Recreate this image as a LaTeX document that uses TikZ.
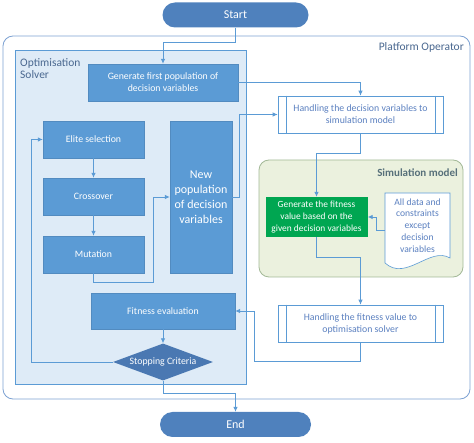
\documentclass[tikz,border=0pt]{standalone}
\usepackage{fontspec}
\setmainfont{Carlito}
\usetikzlibrary{shapes.geometric,arrows.meta,calc}
\definecolor{boxblue}{HTML}{5B9BD5}
\definecolor{pillblue}{HTML}{4F81BD}
\definecolor{diablue}{HTML}{4A78B2}
\definecolor{solverfill}{HTML}{DEEBF7}
\definecolor{outerline}{HTML}{7DA2D3}
\definecolor{simfill}{HTML}{EBF1DE}
\definecolor{simline}{HTML}{A3B997}
\definecolor{gbox}{HTML}{00A651}
\definecolor{labcol}{HTML}{4A6890}
\definecolor{simlab}{HTML}{57707A}
\definecolor{htext}{HTML}{5B80C0}
\tikzset{
  every node/.style={font=\fontsize{9.8}{12}\selectfont, align=center, inner sep=0pt},
  bluebox/.style={rectangle, fill=boxblue, draw=boxblue!90!black, line width=0.4pt, text=white},
  pill/.style={rectangle, rounded corners=12.5pt, fill=pillblue, text=white, font=\fontsize{12}{13}\selectfont, minimum width=146pt, minimum height=25pt},
  hbox/.style={rectangle, fill=white, draw=boxblue, line width=0.6pt, text=htext, minimum width=165pt, minimum height=37pt},
  conn/.style={draw=boxblue, line width=0.8pt, -{Latex[length=5pt,width=4.5pt]}},
}
\begin{document}
\begin{tikzpicture}[x=1pt,y=-1pt]
\useasboundingbox (0,0) rectangle (474,443);
% containers
\draw[outerline, line width=0.8pt, fill=white, rounded corners=10pt] (3,36) rectangle (470,399);
\draw[boxblue, line width=0.7pt, fill=solverfill] (15,50) rectangle (246,384);
\draw[simline, line width=0.8pt, fill=simfill, rounded corners=10pt] (259,160) rectangle (463,277);
\node[anchor=east, text=labcol, font=\fontsize{11.5}{13}\selectfont] (plab) at (464,47) {Platform Operator};
\node[anchor=north west, text=labcol, align=left, font=\fontsize{11.5}{12.5}\selectfont] (slab) at (20,58) {Optimisation\\Solver};
\node[anchor=east, text=simlab, font=\bfseries\fontsize{11}{13}\selectfont] (simlabel) at (458,173) {Simulation model};
% nodes
\node[pill] (start) at (235.5,15) {Start};
\node[pill, minimum width=151pt] (end) at (235.5,424.5) {End};
\node[bluebox, minimum width=150pt, minimum height=37pt] (gen) at (163,82.5) {Generate first population of\\decision variables};
\node[bluebox, minimum width=101pt, minimum height=37pt] (elite) at (93.5,139.5) {Elite selection};
\node[bluebox, minimum width=101pt, minimum height=37pt] (cross) at (93.5,196.5) {Crossover};
\node[bluebox, minimum width=101pt, minimum height=37pt] (mut) at (93.5,254.5) {Mutation};
\node[bluebox, minimum width=62pt, minimum height=152pt, font=\fontsize{12}{15}\selectfont] (newpop) at (201,197) {New\\population\\of decision\\variables};
\node[bluebox, minimum width=144pt, minimum height=36pt] (fit) at (163,311) {Fitness evaluation};
\node[diamond, aspect=2.7, fill=diablue, text=white, minimum width=100pt, minimum height=37pt] (stop) at (163,362) {Stopping Criteria};
\node[hbox] (hdv) at (360.5,114.5) {Handling the decision variables to\\simulation model};
\node[hbox] (hfv) at (360.5,323.5) {Handling the fitness value to\\optimisation solver};
\foreach \n in {hdv,hfv}{
  \draw[boxblue, line width=0.6pt] ([xshift=9pt]\n.north west) -- ([xshift=9pt]\n.south west);
  \draw[boxblue, line width=0.6pt] ([xshift=-8pt]\n.north east) -- ([xshift=-8pt]\n.south east);
}
\node[rectangle, fill=gbox, text=white, minimum width=102pt, minimum height=40pt, font=\fontsize{9.4}{12}\selectfont] (gfit) at (316.5,217) {Generate the fitness\\value based on the\\given decision variables};
% document shape
\draw[boxblue, line width=0.6pt, fill=white] (385,193) -- (450,193) -- (450,258) .. controls (430,246) and (406,282) .. (385,263) -- cycle;
\node[text=htext, font=\fontsize{9.6}{11.8}\selectfont] (doc) at (417.5,225.5) {All data and\\constraints\\except\\decision\\variables};
\coordinate (docw) at (385,230);
% connectors
\draw[conn] (start.south) -- ++(0,15) -| (gen.north);
\draw[conn] (gen.east) -| (hdv.north);
\draw[conn] (hdv.south) -- ++(0,20) -| (gfit.north);
\draw[conn] (gfit.south) -- ++(0,20) -| (hfv.north);
\draw[conn] (docw) -- ++(-9,0) |- (gfit.east);
\draw[conn] (hfv.south) -- ++(0,19) -| ([xshift=19pt]fit.east) -- (fit.east);
\draw[conn] (fit.south) -- (stop.north);
\draw[conn] (stop.west) -| ([xshift=-11pt]elite.west) -- (elite.west);
\draw[conn] (elite.south) -- (cross.north);
\draw[conn] (cross.south) -- (mut.north);
\draw[conn] (mut.south) -- ++(0,9) -| ([xshift=-16pt]newpop.west) -- (newpop.west);
\draw[conn] (newpop.east) -- ++(7,0) |- (hdv.west);
\draw[conn] (stop.south) -- ++(0,13) -| (end.north);
\end{tikzpicture}
\end{document}
